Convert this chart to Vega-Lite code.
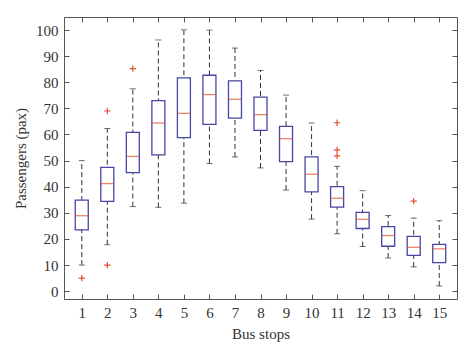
{
  "$schema": "https://vega.github.io/schema/vega-lite/v6.json",
  "width": 393,
  "height": 282,
  "autosize": {"type": "none"},
  "padding": {"left": 64, "top": 17, "right": 17, "bottom": 58},
  "background": "white",
  "config": {
    "font": "Liberation Serif",
    "view": {"stroke": "#555", "strokeWidth": 1},
    "axis": {
      "domain": false,
      "grid": false,
      "tickSize": -5,
      "tickColor": "#555",
      "labelPadding": 11,
      "labelFont": "Liberation Serif",
      "labelFontSize": 15,
      "labelColor": "#333",
      "titleFont": "Liberation Serif",
      "titleFontSize": 15,
      "titleFontWeight": "normal",
      "titleColor": "#333"
    }
  },
  "resolve": {"axis": {"x": "independent", "y": "independent"}},
  "datasets": {
    "boxes": [
      {"stop": 1, "lower": 10, "q1": 23.5, "median": 28.9, "q3": 34.9, "upper": 50},
      {"stop": 2, "lower": 17.8, "q1": 34.4, "median": 41.2, "q3": 47.4, "upper": 62.3},
      {"stop": 3, "lower": 32.4, "q1": 45.4, "median": 51.6, "q3": 60.8, "upper": 77.5},
      {"stop": 4, "lower": 32.1, "q1": 52.2, "median": 64.4, "q3": 73.0, "upper": 96.2},
      {"stop": 5, "lower": 33.7, "q1": 58.8, "median": 68.1, "q3": 81.7, "upper": 100.1},
      {"stop": 6, "lower": 48.9, "q1": 63.9, "median": 75.3, "q3": 82.7, "upper": 100},
      {"stop": 7, "lower": 51.4, "q1": 66.3, "median": 73.5, "q3": 80.5, "upper": 93.1},
      {"stop": 8, "lower": 47.2, "q1": 61.6, "median": 67.6, "q3": 74.3, "upper": 84.5},
      {"stop": 9, "lower": 38.7, "q1": 49.6, "median": 58.4, "q3": 63.1, "upper": 75.1},
      {"stop": 10, "lower": 27.6, "q1": 38.0, "median": 44.8, "q3": 51.4, "upper": 64.4},
      {"stop": 11, "lower": 22.0, "q1": 32.2, "median": 35.6, "q3": 40.0, "upper": 47.8},
      {"stop": 12, "lower": 17.1, "q1": 24.0, "median": 27.5, "q3": 30.2, "upper": 38.5},
      {"stop": 13, "lower": 12.7, "q1": 17.2, "median": 21.3, "q3": 24.7, "upper": 29.0},
      {"stop": 14, "lower": 9.3, "q1": 13.7, "median": 16.8, "q3": 21.0, "upper": 28.0},
      {"stop": 15, "lower": 2.0, "q1": 10.9, "median": 16.2, "q3": 17.9, "upper": 27.0}
    ],
    "outliers": [
      {"stop": 1, "value": 5},
      {"stop": 2, "value": 10},
      {"stop": 2, "value": 69},
      {"stop": 3, "value": 85.2},
      {"stop": 11, "value": 64.5},
      {"stop": 11, "value": 54.1},
      {"stop": 11, "value": 51.8},
      {"stop": 14, "value": 34.5}
    ]
  },
  "layer": [
    {
      "data": {"name": "boxes"},
      "mark": {"type": "rule", "color": "#333", "strokeDash": [5, 3], "strokeWidth": 1},
      "encoding": {
        "x": {"field": "stop", "type": "quantitative", "scale": {"domain": [0.5, 15.5], "nice": false, "zero": false},
              "axis": {"values": [1,2,3,4,5,6,7,8,9,10,11,12,13,14,15], "title": "Bus stops", "titlePadding": 6, "orient": "bottom"}},
        "y": {"field": "lower", "type": "quantitative", "scale": {"domain": [-3, 105], "nice": false, "zero": false},
              "axis": {"values": [0,10,20,30,40,50,60,70,80,90,100], "title": "Passengers (pax)", "titlePadding": 7, "orient": "left"}},
        "y2": {"field": "upper"}
      }
    },
    {
      "data": {"name": "boxes"},
      "mark": {"type": "tick", "orient": "horizontal", "color": "#333", "size": 6, "thickness": 1},
      "encoding": {
        "x": {"field": "stop", "type": "quantitative", "axis": null},
        "y": {"field": "lower", "type": "quantitative", "axis": null}
      }
    },
    {
      "data": {"name": "boxes"},
      "mark": {"type": "tick", "orient": "horizontal", "color": "#333", "size": 6, "thickness": 1},
      "encoding": {
        "x": {"field": "stop", "type": "quantitative", "axis": null},
        "y": {"field": "upper", "type": "quantitative", "axis": null}
      }
    },
    {
      "data": {"name": "boxes"},
      "mark": {"type": "bar", "size": 13, "fill": "white", "stroke": "#4646a6", "strokeWidth": 1.3},
      "encoding": {
        "x": {"field": "stop", "type": "quantitative", "axis": null},
        "y": {"field": "q1", "type": "quantitative", "axis": null},
        "y2": {"field": "q3"}
      }
    },
    {
      "data": {"name": "boxes"},
      "mark": {"type": "tick", "orient": "horizontal", "color": "#e2502c", "size": 13, "thickness": 1.3},
      "encoding": {
        "x": {"field": "stop", "type": "quantitative", "axis": null},
        "y": {"field": "median", "type": "quantitative", "axis": null}
      }
    },
    {
      "data": {"name": "outliers"},
      "mark": {"type": "point", "shape": "M-1,0L1,0M0,-1L0,1", "size": 40, "filled": false, "stroke": "#e2502c", "strokeWidth": 1.2, "opacity": 1},
      "encoding": {
        "x": {"field": "stop", "type": "quantitative",
              "axis": {"orient": "top", "values": [1,2,3,4,5,6,7,8,9,10,11,12,13,14,15], "labels": false, "title": null}},
        "y": {"field": "value", "type": "quantitative",
              "axis": {"orient": "right", "values": [0,10,20,30,40,50,60,70,80,90,100], "labels": false, "title": null}}
      }
    }
  ]
}
